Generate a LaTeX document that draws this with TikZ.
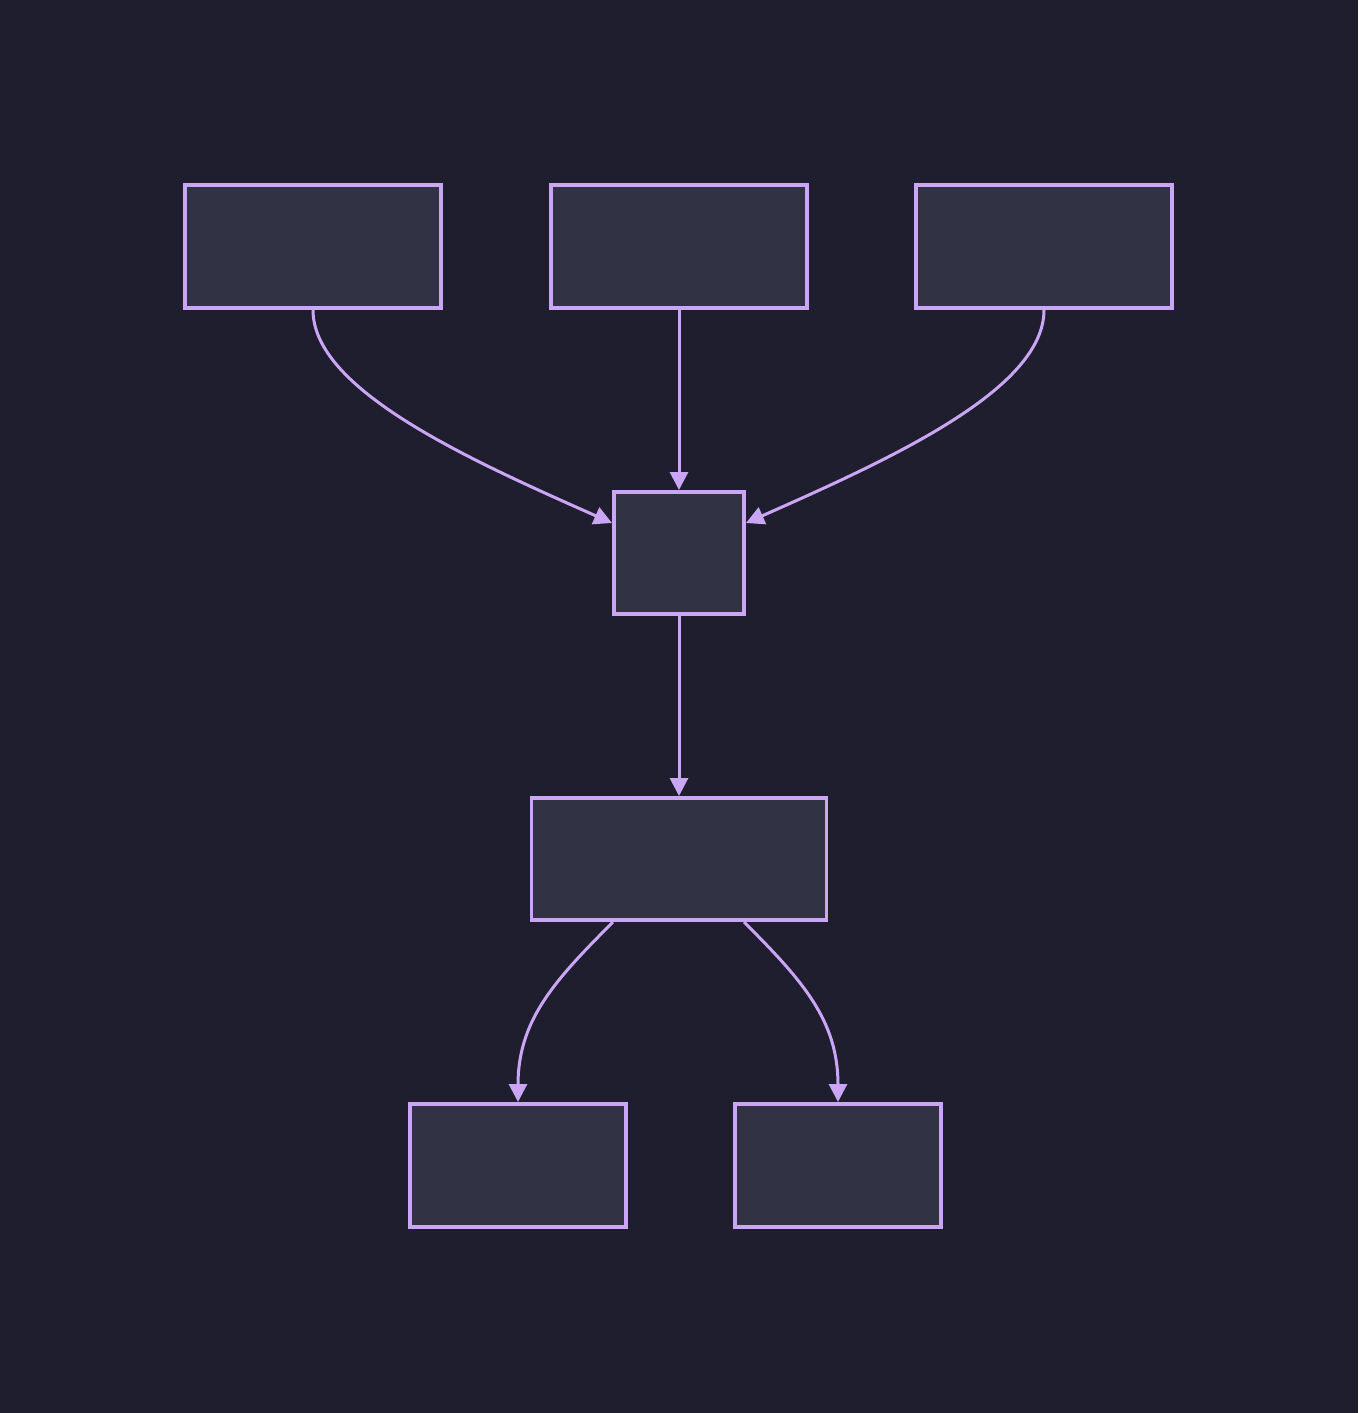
\documentclass[tikz,border=0pt]{standalone}
\usetikzlibrary{arrows.meta}
\definecolor{bg}{HTML}{1E1E2E}
\definecolor{boxfill}{HTML}{313244}
\definecolor{mauve}{HTML}{CBA6F7}
\begin{document}
\begin{tikzpicture}[x=1pt,y=-1pt,
  box/.style={draw=mauve,fill=boxfill,line width=3.5pt,rectangle,inner sep=0pt,outer sep=2pt},
  edge/.style={draw=mauve,line width=3pt,-{Triangle[length=18pt,width=18pt]}}]
\fill[bg] (0,0) rectangle (1358,1413);
\useasboundingbox (0,0) rectangle (1358,1413);
\node[box,minimum width=256pt,minimum height=123pt] (a) at (313,246.5) {};
\node[box,minimum width=256pt,minimum height=123pt] (b) at (679,246.5) {};
\node[box,minimum width=256pt,minimum height=123pt] (c) at (1044,246.5) {};
\node[box,minimum width=130pt,minimum height=122pt] (d) at (679,553) {};
\node[box,minimum width=295pt,minimum height=122pt] (e) at (679,859) {};
\node[box,minimum width=216pt,minimum height=123pt] (f) at (518,1165.5) {};
\node[box,minimum width=206pt,minimum height=123pt] (g) at (838,1165.5) {};
\draw[edge] (a.south) .. controls (313,390) and (470,460) .. (d.west |- 0,523);
\draw[edge] (b.south) -- (d.north);
\draw[edge] (c.south) .. controls (1044,390) and (888,460) .. (d.east |- 0,523);
\draw[edge] (d.south) -- (e.north);
\draw[edge] (e.south -| 613,0) .. controls (555,980) and (518,1020) .. (f.north);
\draw[edge] (e.south -| 744,0) .. controls (802,980) and (838,1020) .. (g.north);
\end{tikzpicture}
\end{document}
